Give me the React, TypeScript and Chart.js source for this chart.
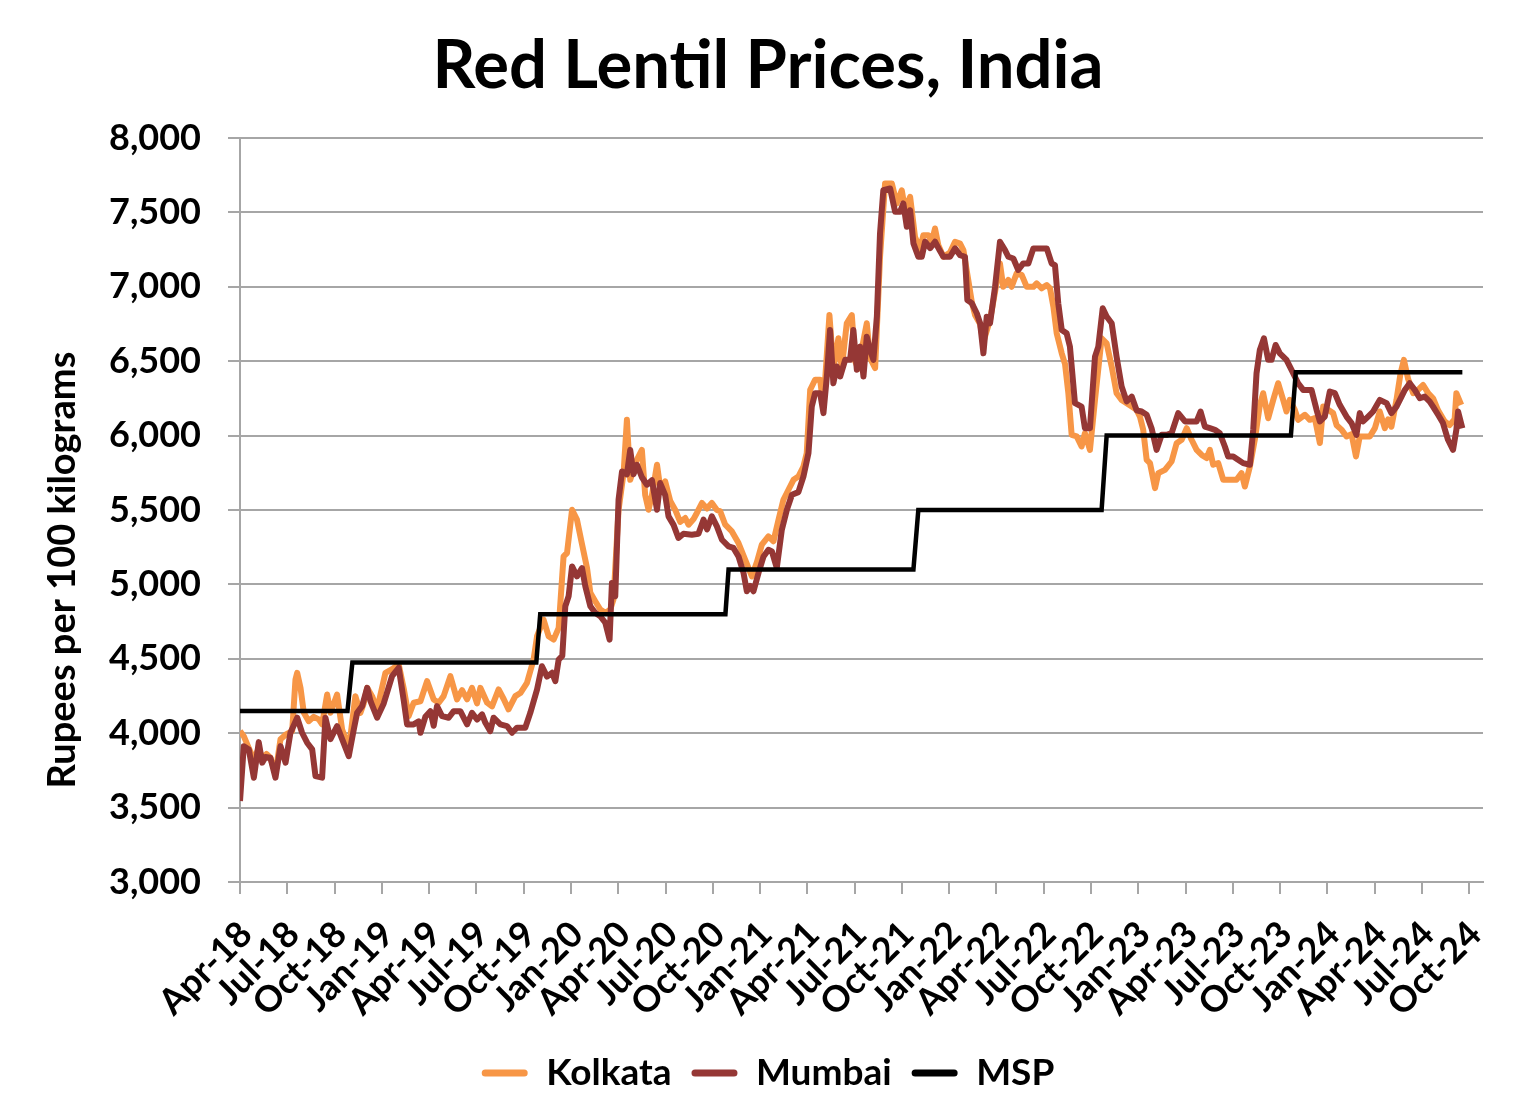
import React, { useEffect, useRef } from "react";
import { Chart, registerables } from "chart.js";

Chart.register(...registerables);

// x values are months since 1 April 2018
const tickLabels = [
  "Apr-18", "Jul-18", "Oct-18", "Jan-19", "Apr-19", "Jul-19", "Oct-19", "Jan-20", "Apr-20",
  "Jul-20", "Oct-20", "Jan-21", "Apr-21", "Jul-21", "Oct-21", "Jan-22", "Apr-22", "Jul-22",
  "Oct-22", "Jan-23", "Apr-23", "Jul-23", "Oct-23", "Jan-24", "Apr-24", "Jul-24", "Oct-24",
];

const kolkata: [number, number][] = [
  [0, 4014], [0.24, 3980], [0.56, 3900], [0.88, 3824], [1.19, 3900], [1.43, 3820], [1.68, 3860],
  [1.93, 3835], [2.25, 3730], [2.57, 3960], [2.89, 3990], [3.31, 4014], [3.52, 4361], [3.63, 4406],
  [3.84, 4305], [4.05, 4137], [4.36, 4081], [4.68, 4110], [5.0, 4093], [5.21, 4060], [5.53, 4260],
  [5.74, 4137], [6.16, 4260], [6.48, 4025], [6.8, 3936], [7.01, 3980], [7.32, 4249], [7.64, 4137],
  [7.85, 4200], [8.07, 4305], [8.38, 4249], [8.7, 4160], [9.23, 4406], [9.65, 4430], [10.07, 4462],
  [10.39, 4300], [10.7, 4115], [11.02, 4205], [11.45, 4215], [11.87, 4350], [12.29, 4227],
  [12.61, 4205], [12.92, 4249], [13.35, 4383], [13.77, 4227], [14.09, 4290], [14.41, 4227],
  [14.72, 4305], [15.04, 4200], [15.25, 4305], [15.68, 4205], [15.99, 4180], [16.41, 4294],
  [16.73, 4230], [17.04, 4160], [17.47, 4249], [17.79, 4270], [18.21, 4339], [18.63, 4495],
  [18.85, 4652], [19.26, 4764], [19.58, 4652], [19.9, 4629], [20.22, 4708], [20.53, 5188],
  [20.75, 5211], [21.07, 5502], [21.38, 5435], [21.7, 5270], [22.02, 5110], [22.23, 4943],
  [22.54, 4887], [22.86, 4831], [23.18, 4809], [23.49, 4830], [23.7, 4900], [24.02, 5500],
  [24.34, 5750], [24.55, 6106], [24.76, 5703], [25.08, 5815], [25.5, 5904], [25.71, 5600],
  [25.92, 5502], [26.14, 5600], [26.46, 5804], [26.66, 5650], [26.98, 5692], [27.3, 5560],
  [27.61, 5502], [27.93, 5420], [28.25, 5446], [28.46, 5401], [28.78, 5440], [28.99, 5480],
  [29.31, 5547], [29.63, 5510], [29.94, 5547], [30.26, 5500], [30.47, 5491], [30.79, 5401],
  [31.21, 5356], [31.63, 5278], [32.05, 5166], [32.48, 5054], [32.8, 5150], [33.11, 5267],
  [33.53, 5323], [33.85, 5290], [34.17, 5435], [34.48, 5569], [34.8, 5636], [35.12, 5703],
  [35.43, 5725], [35.75, 5792], [35.96, 5882], [36.18, 6308], [36.49, 6375], [36.81, 6375],
  [37.02, 6200], [37.4, 6810], [37.65, 6450], [37.97, 6654], [38.18, 6450], [38.5, 6755],
  [38.82, 6810], [39.03, 6500], [39.24, 6450], [39.45, 6580], [39.77, 6755], [39.98, 6520],
  [40.3, 6453], [40.61, 7200], [40.93, 7694], [41.36, 7694], [41.67, 7560], [41.99, 7649],
  [42.2, 7520], [42.52, 7605], [42.83, 7336], [43.15, 7250], [43.36, 7347], [43.68, 7347],
  [43.89, 7300], [44.1, 7392], [44.31, 7280], [44.63, 7202], [45.05, 7230], [45.37, 7303],
  [45.69, 7290], [45.9, 7247], [46.21, 7046], [46.43, 6900], [46.64, 6810], [46.96, 6750],
  [47.17, 6630], [47.59, 6777], [47.91, 6967], [48.22, 7157], [48.43, 7000], [48.75, 7046],
  [48.96, 7000], [49.28, 7090], [49.6, 7080], [49.92, 7000], [50.34, 7000], [50.55, 7023],
  [50.87, 6990], [51.19, 7012], [51.4, 6989], [51.61, 6866], [51.82, 6688], [52.14, 6553],
  [52.35, 6480], [52.56, 6285], [52.77, 6005], [53.09, 5995], [53.4, 5927], [53.61, 6016],
  [53.93, 5904], [54.25, 6240], [54.67, 6654], [54.99, 6620], [55.31, 6464], [55.62, 6285],
  [55.94, 6240], [56.26, 6218], [56.58, 6195], [56.89, 6173], [57.1, 6128], [57.31, 6039],
  [57.53, 5837], [57.74, 5815], [58.06, 5647], [58.27, 5748], [58.69, 5770], [59.11, 5826],
  [59.43, 5949], [59.75, 5972], [60.07, 6050], [60.38, 5972], [60.7, 5904], [61.02, 5870],
  [61.33, 5849], [61.54, 5904], [61.75, 5804], [62.07, 5815], [62.39, 5703], [62.81, 5703],
  [63.23, 5703], [63.55, 5748], [63.76, 5658], [64.08, 5792], [64.39, 5972], [64.71, 6206],
  [64.92, 6285], [65.24, 6117], [65.56, 6240], [65.87, 6352], [66.19, 6240], [66.4, 6162],
  [66.61, 6240], [66.93, 6173], [67.14, 6106], [67.57, 6140], [67.88, 6106], [68.2, 6117],
  [68.52, 5950], [68.73, 6195], [69.04, 6173], [69.36, 6151], [69.58, 6070], [69.89, 6040],
  [70.21, 5994], [70.53, 6010], [70.81, 5860], [71.05, 5994], [71.37, 5994], [71.69, 5994],
  [72.01, 6050], [72.32, 6162], [72.64, 6050], [72.85, 6110], [73.06, 6060], [73.38, 6240],
  [73.64, 6420], [73.85, 6509], [74.12, 6380], [74.44, 6285], [74.75, 6307], [75.07, 6340],
  [75.39, 6285], [75.7, 6251], [76.02, 6170], [76.44, 6095], [76.75, 6070], [77.07, 6110],
  [77.18, 6285], [77.49, 6207],
];

const mumbai: [number, number][] = [
  [0, 3544], [0.24, 3913], [0.56, 3890], [0.88, 3701], [1.19, 3940], [1.41, 3802], [1.62, 3840],
  [1.93, 3835], [2.25, 3701], [2.57, 3913], [2.89, 3802], [3.2, 4003], [3.63, 4104], [3.94, 4003],
  [4.26, 3936], [4.58, 3891], [4.79, 3712], [5.21, 3701], [5.42, 4104], [5.74, 3960], [6.16, 4047],
  [6.48, 3960], [6.9, 3846], [7.22, 4025], [7.43, 4137], [7.75, 4182], [8.07, 4305], [8.28, 4215],
  [8.7, 4104], [9.12, 4200], [9.65, 4383], [10.07, 4440], [10.39, 4220], [10.6, 4059], [11.02, 4059],
  [11.34, 4080], [11.45, 4003], [11.76, 4110], [12.08, 4148], [12.29, 4050], [12.5, 4182],
  [12.82, 4115], [13.24, 4104], [13.56, 4148], [13.98, 4148], [14.41, 4059], [14.72, 4137],
  [15.04, 4092], [15.36, 4126], [15.57, 4070], [15.88, 4014], [16.09, 4104], [16.52, 4059],
  [16.94, 4048], [17.26, 4003], [17.58, 4037], [18.1, 4037], [18.42, 4137], [18.85, 4294],
  [19.16, 4450], [19.48, 4380], [19.8, 4406], [20.01, 4350], [20.22, 4495], [20.45, 4520],
  [20.64, 4853], [20.85, 4920], [21.07, 5121], [21.38, 5054], [21.7, 5110], [21.91, 4987],
  [22.23, 4853], [22.54, 4809], [22.86, 4786], [23.18, 4742], [23.45, 4629], [23.6, 5010],
  [23.81, 4920], [24.02, 5569], [24.24, 5759], [24.55, 5740], [24.76, 5904], [24.97, 5740],
  [25.19, 5804], [25.5, 5720], [25.82, 5670], [26.14, 5700], [26.46, 5502], [26.66, 5681],
  [26.98, 5600], [27.19, 5457], [27.51, 5400], [27.82, 5312], [28.14, 5340], [28.67, 5334],
  [29.09, 5340], [29.41, 5435], [29.64, 5370], [29.94, 5457], [30.26, 5390], [30.58, 5300],
  [31.0, 5255], [31.31, 5245], [31.63, 5188], [31.95, 5077], [32.16, 4954], [32.37, 4990],
  [32.58, 4954], [32.9, 5077], [33.22, 5188], [33.53, 5233], [33.75, 5222], [34.06, 5111],
  [34.38, 5368], [34.7, 5502], [35.02, 5602], [35.43, 5620], [35.75, 5725], [36.07, 5882],
  [36.28, 6195], [36.49, 6285], [36.81, 6285], [37.02, 6151], [37.24, 6400], [37.44, 6710],
  [37.65, 6352], [37.87, 6464], [38.08, 6397], [38.4, 6509], [38.71, 6509], [38.92, 6710],
  [39.14, 6442], [39.35, 6598], [39.56, 6397], [39.77, 6665], [39.98, 6576], [40.19, 6509],
  [40.41, 6800], [40.61, 7359], [40.82, 7649], [41.25, 7661], [41.57, 7504], [41.88, 7504],
  [42.09, 7560], [42.31, 7403], [42.52, 7515], [42.73, 7292], [43.04, 7202], [43.26, 7202],
  [43.47, 7303], [43.79, 7260], [44.1, 7303], [44.42, 7240], [44.63, 7202], [45.05, 7202],
  [45.37, 7258], [45.69, 7213], [46.0, 7202], [46.15, 6911], [46.43, 6890], [46.75, 6822],
  [46.96, 6755], [47.17, 6553], [47.38, 6799], [47.59, 6755], [47.91, 7000], [48.22, 7303],
  [48.54, 7247], [48.75, 7202], [49.07, 7190], [49.38, 7113], [49.7, 7157], [50.02, 7157],
  [50.34, 7258], [50.76, 7258], [51.19, 7258], [51.5, 7157], [51.71, 7146], [51.92, 6889],
  [52.14, 6710], [52.45, 6688], [52.66, 6598], [52.98, 6218], [53.4, 6195], [53.61, 6050],
  [53.93, 6050], [54.25, 6531], [54.46, 6598], [54.74, 6856], [54.99, 6800], [55.31, 6755],
  [55.62, 6531], [55.94, 6330], [56.26, 6230], [56.58, 6262], [56.89, 6170], [57.21, 6162],
  [57.53, 6140], [57.84, 6050], [58.16, 5904], [58.48, 6005], [58.79, 6005], [59.11, 6016],
  [59.53, 6151], [59.96, 6095], [60.27, 6095], [60.7, 6095], [60.95, 6162], [61.22, 6061],
  [61.54, 6050], [61.86, 6039], [62.17, 6016], [62.49, 5927], [62.7, 5860], [63.02, 5860],
  [63.33, 5838], [63.65, 5815], [64.08, 5804], [64.29, 6039], [64.5, 6419], [64.71, 6575],
  [64.97, 6654], [65.24, 6509], [65.45, 6509], [65.71, 6609], [65.98, 6553], [66.4, 6509],
  [66.72, 6442], [67.14, 6352], [67.46, 6307], [67.99, 6307], [68.31, 6173], [68.52, 6095],
  [68.83, 6128], [69.15, 6296], [69.47, 6285], [69.78, 6207], [70.21, 6128], [70.53, 6084],
  [70.84, 6005], [71.05, 6151], [71.26, 6095], [71.58, 6128], [71.9, 6162], [72.32, 6240],
  [72.75, 6218], [73.06, 6151], [73.38, 6195], [73.7, 6262], [73.91, 6307], [74.22, 6352],
  [74.54, 6307], [74.86, 6251], [75.17, 6262], [75.49, 6229], [75.7, 6195], [76.02, 6140],
  [76.33, 6084], [76.65, 5972], [76.97, 5904], [77.18, 6039], [77.29, 6162], [77.56, 6050],
];

const mspMonths = [0, 6.82, 7.13, 18.8, 19.05, 30.8, 31.0, 42.73, 43.04, 54.67, 54.99, 66.68, 66.99, 77.56];
const mspValues = [4150, 4150, 4475, 4475, 4800, 4800, 5100, 5100, 5500, 5500, 6000, 6000, 6425, 6425];

const FONT = "Lato";
const NBSP = "\u00A0";

export default function App() {
  const ref = useRef<HTMLCanvasElement>(null);

  useEffect(() => {
    if (!ref.current) return;
    const gridColor = "#A6A6A6";
    const chart = new Chart(ref.current, {
      type: "line",
      data: {
        datasets: [
          {
            label: "Kolkata",
            data: kolkata.map(([x, y]) => ({ x, y })),
            borderColor: "#F79646",
            backgroundColor: "#F79646",
            borderWidth: 6,
            pointRadius: 0,
            borderJoinStyle: "round",
            order: 3,
          },
          {
            label: "Mumbai",
            data: mumbai.map(([x, y]) => ({ x, y })),
            borderColor: "#953735",
            backgroundColor: "#953735",
            borderWidth: 6,
            pointRadius: 0,
            borderJoinStyle: "round",
            order: 2,
          },
          {
            label: "MSP",
            data: mspMonths.map((x, i) => ({ x, y: mspValues[i] })),
            borderColor: "#000000",
            backgroundColor: "#000000",
            borderWidth: 4.5,
            pointRadius: 0,
            order: 1,
          },
        ],
      },
      options: {
        animation: false,
        responsive: false,
        layout: { padding: { left: 0, right: 0, top: 0, bottom: 16.5 } },
        plugins: {
          tooltip: { enabled: false },
          title: {
            display: true,
            text: "Red Lentil Prices, India",
            color: "#000",
            font: { family: FONT, size: 67, weight: "bold" },
            padding: { top: 26, bottom: 31.6 },
          },
          legend: {
            position: "bottom",
            labels: {
              color: "#000",
              font: { family: FONT, size: 37, weight: "bold" },
              boxWidth: 46,
              boxHeight: 7,
              padding: 20,
              useBorderRadius: true,
              borderRadius: 3.5,
              sort: (a: any, b: any) => a.datasetIndex - b.datasetIndex,
              generateLabels: (chart: any) =>
                Chart.defaults.plugins.legend.labels
                  .generateLabels(chart)
                  .map((l: any) => ({ ...l, lineWidth: 0 })),
            },
          },
        },
        scales: {
          x: {
            type: "linear",
            min: 0,
            max: 78.87,
            afterBuildTicks: (s: any) => {
              s.ticks = tickLabels.map((_, i) => ({ value: i * 3 }));
            },
            afterFit: (s: any) => {
              s.height = 152.5;
            },
            ticks: {
              autoSkip: false,
              minRotation: 45,
              maxRotation: 45,
              padding: 19,
              labelOffset: 6,
              color: "#000",
              font: { family: FONT, size: 36, weight: "bold" },
              callback: (v: any) => tickLabels[Math.round(Number(v) / 3)],
            },
            grid: { drawOnChartArea: false, drawTicks: true, tickLength: 12, color: gridColor, lineWidth: 2 },
            border: { color: gridColor, width: 2 },
          },
          y: {
            min: 3000,
            max: 8000,
            afterFit: (s: any) => {
              s.width = 240;
            },
            ticks: {
              stepSize: 500,
              padding: 27,
              color: "#000",
              font: { family: FONT, size: 36, weight: "bold" },
              callback: (v: any) => Number(v).toLocaleString("en-US"),
            },
            grid: { color: gridColor, lineWidth: 2, tickLength: 12, drawTicks: true },
            border: { color: gridColor, width: 2 },
            title: {
              display: true,
              text: "Rupees per 100 kilograms" + NBSP.repeat(13),
              color: "#000",
              font: { family: FONT, size: 38, weight: "bold" },
              padding: { top: 40, bottom: 0 },
            },
          },
          y2: {
            position: "right",
            display: true,
            afterFit: (s: any) => {
              s.width = 53;
            },
            ticks: { display: false },
            grid: { display: false },
            border: { display: false },
          },
        },
      },
    });
    return () => chart.destroy();
  }, []);

  return (
    <div style={{ position: "fixed", left: 0, top: 0, width: 1536, height: 1118, background: "#fff" }}>
      <canvas ref={ref} width={1536} height={1118} style={{ width: 1536, height: 1118, display: "block" }} />
    </div>
  );
}
